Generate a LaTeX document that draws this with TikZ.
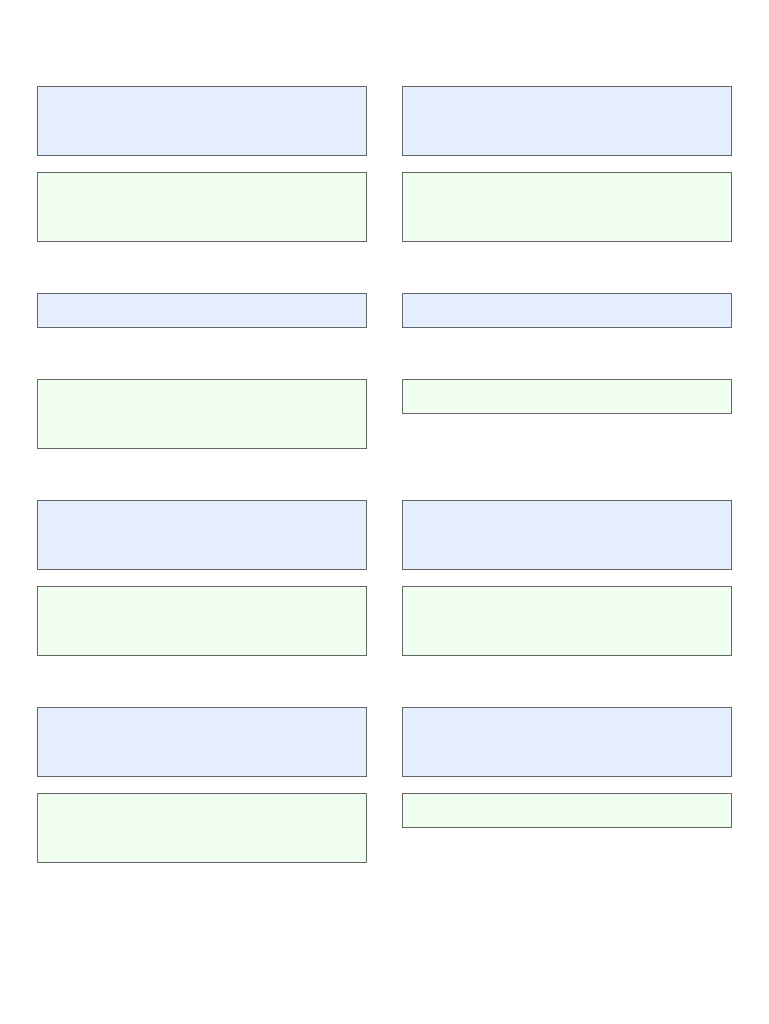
\documentclass[tikz,border=0pt]{standalone}
\usepackage{tikz}
\usetikzlibrary{positioning}
\definecolor{boxblue}{RGB}{228,238,255}
\definecolor{boxgreen}{RGB}{240,255,240}
\definecolor{boxline}{RGB}{102,102,102}
\tikzset{
  panel/.style={draw=boxline,line width=0.8pt,rectangle,anchor=north west,
    minimum width=329pt,minimum height=69pt,inner sep=0pt},
  bluebox/.style={panel,fill=boxblue},
  greenbox/.style={panel,fill=boxgreen},
  thin box/.style={minimum height=34pt}
}
\begin{document}
\begin{tikzpicture}[x=1pt,y=-1pt]
    \useasboundingbox (0,0) rectangle (768,1024);

    \node[bluebox] (b1l) at (37,86) {};
    \node[bluebox] (b1r) at (402,86) {};
    \node[greenbox] (g1l) at (37,172) {};
    \node[greenbox] (g1r) at (402,172) {};

    \node[bluebox,thin box] (b2l) at (37,293) {};
    \node[bluebox,thin box] (b2r) at (402,293) {};
    \node[greenbox] (g2l) at (37,379) {};
    \node[greenbox,thin box] (g2r) at (402,379) {};

    \node[bluebox] (b3l) at (37,500) {};
    \node[bluebox] (b3r) at (402,500) {};
    \node[greenbox] (g3l) at (37,586) {};
    \node[greenbox] (g3r) at (402,586) {};

    \node[bluebox] (b4l) at (37,707) {};
    \node[bluebox] (b4r) at (402,707) {};
    \node[greenbox] (g4l) at (37,793) {};
    \node[greenbox,thin box] (g4r) at (402,793) {};
  \end{tikzpicture}
\end{document}
